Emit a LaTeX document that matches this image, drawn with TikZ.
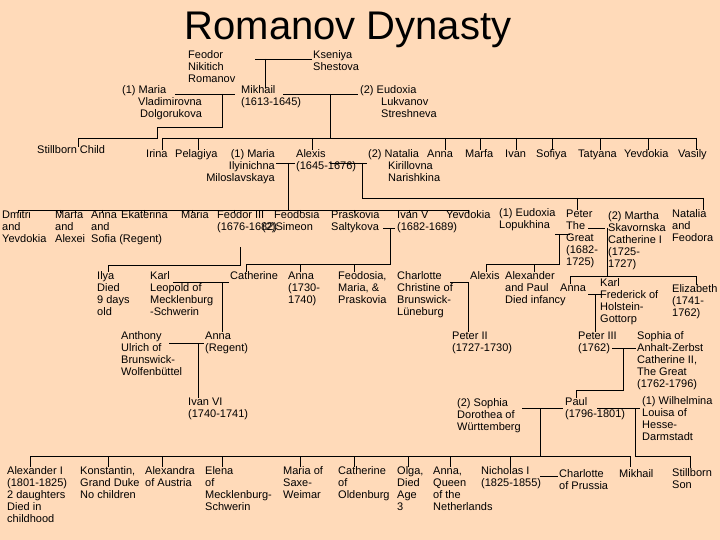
\documentclass[tikz,border=0pt]{standalone}
\usepackage{fontspec}
\setmainfont{Liberation Sans}
\definecolor{bg}{HTML}{FFDAB9}
\begin{document}
\begin{tikzpicture}[x=1pt,y=-1pt,
  t/.style={anchor=north west,inner sep=0pt,align=left,font=\fontsize{11}{12}\selectfont},
  tr/.style={t,anchor=north east,align=right},
  ln/.style={draw=black,line width=0.8pt}]
\fill[bg] (0,0) rectangle (720,540);
\useasboundingbox (0,0) rectangle (720,540);
\node[font=\fontsize{40}{44}\selectfont,inner sep=0pt] (title) at (348,30) {Romanov Dynasty};
\newcommand\N[4]{\node[t] (#1) at (#2,#3) {\strut #4};}
\N{feodor}{188}{50}{Feodor\\Nikitich\\Romanov}
\N{kseniya}{313}{50}{Kseniya\\Shestova}
\N{mariaA}{122}{85}{(1) Maria\\\hspace*{16pt}Vladimirovna\\\hspace*{18pt}Dolgorukova}
\N{mikhail}{241}{85}{Mikhail\\(1613-1645)}
\N{eudoxiaB}{360}{85}{(2) Eudoxia\\\hspace*{21pt}Lukvanov\\\hspace*{21pt}Streshneva}
\N{stillborn}{37}{145}{Stillborn Child}
\N{irina}{146}{149}{Irina}
\N{pelagiya}{175}{149}{Pelagiya}
\node[tr] (mariaI) at (275,149) {\strut(1) Maria\\Ilyinichna\\Miloslavskaya};
\N{alexis}{296}{149}{Alexis\\(1645-1676)}
\N{natalia}{368}{149}{(2) Natalia\\\hspace*{20pt}Kirillovna\\\hspace*{20pt}Narishkina}
\N{annaA}{427}{149}{Anna}
\N{marfaA}{465}{149}{Marfa}
\N{ivanA}{505}{149}{Ivan}
\N{sofiya}{536}{149}{Sofiya}
\N{tatyana}{578}{149}{Tatyana}
\N{yevdokiaA}{624}{149}{Yevdokia}
\N{vasily}{678}{149}{Vasily}
\N{dmitri}{2}{210}{Dmitri\\and\\Yevdokia}
\N{marfaB}{55}{210}{Marfa\\and\\Alexei}
\N{annaB}{91}{210}{Anna\\and\\Sofia (Regent)}
\N{ekaterina}{121}{210}{Ekaterina}
\N{mariaB}{181}{210}{Maria}
\N{feodorIII}{217}{210}{Feodor III\\(1676-1682)}
\N{feodosia}{274}{210}{Feodosia}
\N{simeon}{262}{222}{(2)Simeon}
\N{praskovia}{331}{210}{Praskovia\\Saltykova}
\N{ivanV}{397}{210}{Ivan V\\(1682-1689)}
\N{yevdokiaB}{446}{210}{Yevdokia}
\N{eudoxiaA}{499}{208}{(1) Eudoxia\\Lopukhina}
\N{peter}{566}{209}{Peter\\The\\Great\\(1682-\\1725)}
\N{martha}{608}{211}{(2) Martha\\Skavornska\\Catherine I\\(1725-\\1727)}
\N{natF}{672}{209}{Natalia\\and\\Feodora}
\N{ilya}{97}{271}{Ilya\\Died\\9 days\\old}
\N{karlA}{150}{271}{Karl\\Leopold of\\Mecklenburg\\-Schwerin}
\N{catherine}{230}{271}{Catherine}
\N{annaC}{288}{271}{Anna\\(1730-\\1740)}
\N{feodosiaB}{338}{271}{Feodosia,\\Maria, \&\\Praskovia}
\N{charlotte}{397}{271}{Charlotte\\Christine of\\Brunswick-\\Lüneburg}
\N{alexisB}{470}{271}{Alexis}
\N{alexander}{505}{271}{Alexander\\and Paul\\Died infancy}
\N{annaP}{560}{283}{Anna}
\N{karlB}{600}{278}{Karl\\Frederick of\\Holstein-\\Gottorp}
\N{elizabeth}{672}{284}{Elizabeth\\(1741-\\1762)}
\N{anthony}{121}{331}{Anthony\\Ulrich of\\Brunswick-\\Wolfenbüttel}
\N{annaR}{205}{331}{Anna\\(Regent)}
\N{peterII}{452}{331}{Peter II\\(1727-1730)}
\N{peterIII}{578}{331}{Peter III\\(1762)}
\N{sophiaA}{637}{331}{Sophia of\\Anhalt-Zerbst\\Catherine II,\\The Great\\(1762-1796)}
\N{ivanVI}{188}{397}{Ivan VI\\(1740-1741)}
\N{sophiaD}{457}{398}{(2) Sophia\\Dorothea of\\Württemberg}
\N{paul}{565}{397}{Paul\\(1796-1801)}
\N{wilhelmina}{642}{396}{(1) Wilhelmina\\Louisa of\\Hesse-\\Darmstadt}
\N{alexI}{7}{466}{Alexander I\\(1801-1825)\\2 daughters\\Died in\\childhood}
\N{konst}{80}{466}{Konstantin,\\Grand Duke\\No children}
\N{alexandra}{145}{466}{Alexandra\\of Austria}
\N{elena}{205}{466}{Elena\\of\\Mecklenburg-\\Schwerin}
\N{mariaS}{283}{466}{Maria of\\Saxe-\\Weimar}
\N{catherineO}{338}{466}{Catherine\\of\\Oldenburg}
\N{olga}{397}{466}{Olga,\\Died\\Age\\3}
\N{annaN}{433}{466}{Anna,\\Queen\\of the\\Netherlands}
\N{nicholas}{481}{466}{Nicholas I\\(1825-1855)}
\N{charlotteP}{559}{469}{Charlotte\\of Prussia}
\N{mikhailB}{619}{469}{Mikhail}
\N{stillbornS}{672}{468}{Stillborn\\Son}
% connectors
\draw[ln] (255,59) -- (312,59); \draw[ln] (265,59) -- (265,88);
\draw[ln] (175,94) -- (235,94);
\draw[ln] (222,94) -- (222,127) -- (157,127) -- (157,138) -- (78,138) -- (78,147);
\draw[ln] (283,94) -- (358,94); \draw[ln] (330,94) -- (330,138);
\draw[ln] (162,138) -- (696,138);
\foreach \x in {162,198,312,445,480,516,552,600,648,696} \draw[ln] (\x,138) -- (\x,150);
\draw[ln] (276,163) -- (295,163); \draw[ln] (288,163) -- (288,210);
\draw[ln] (18,210) -- (468,210);
\foreach \x in {18,60,102,144,192,234,300,354,409,468} \draw[ln] (\x,210) -- (\x,213);
\draw[ln] (330,163) -- (367,163); \draw[ln] (362,163) -- (362,198) -- (703,198);
\foreach \x in {577,703} \draw[ln] (\x,198) -- (\x,210);
\draw[ln] (555,234) -- (570,234); \draw[ln] (559,234) -- (559,264) -- (486,264) -- (486,272);
\draw[ln] (534,264) -- (534,272);
\draw[ln] (588,228) -- (605,228); \draw[ln] (607,228) -- (607,276);
\draw[ln] (570,276) -- (696,276); \draw[ln] (570,276) -- (570,284); \draw[ln] (696,276) -- (696,285);
\draw[ln] (588,294) -- (601,294); \draw[ln] (595,294) -- (595,332);
\draw[ln] (240,247) -- (240,265) -- (108,265) -- (108,272);
\draw[ln] (383,228) -- (395,228); \draw[ln] (390,228) -- (390,264) -- (246,264);
\foreach \x in {246,300,354} \draw[ln] (\x,264) -- (\x,272);
\draw[ln] (173,282) -- (229,282); \draw[ln] (222,282) -- (222,332);
\draw[ln] (169,343) -- (204,343); \draw[ln] (198,343) -- (198,398);
\draw[ln] (450,282) -- (469,282); \draw[ln] (468,282) -- (468,332);
\draw[ln] (612,348) -- (636,348); \draw[ln] (623,348) -- (623,390) -- (576,390) -- (576,398);
\draw[ln] (522,408) -- (563,408); \draw[ln] (540,408) -- (540,456);
\draw[ln] (597,408) -- (640,408); \draw[ln] (635,408) -- (635,456) -- (690,456) -- (690,468);
\draw[ln] (30,456) -- (630,456);
\foreach \x in {30,108,162,222,300,354,408,450,510,630} \draw[ln] (\x,456) -- (\x,467);
\draw[ln] (540,476) -- (558,476);
\end{tikzpicture}
\end{document}
